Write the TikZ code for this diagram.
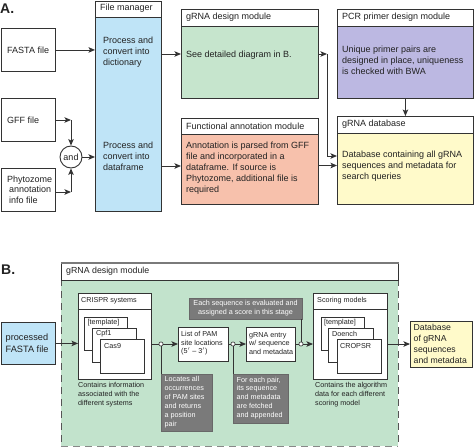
\documentclass[tikz,border=0pt]{standalone}
\usepackage{fontspec}
\setmainfont{Liberation Sans}
\usetikzlibrary{arrows.meta,calc}
\definecolor{lineC}{HTML}{333333}
\definecolor{txtC}{HTML}{222222}
\definecolor{blueC}{HTML}{BFE4F7}
\definecolor{greenC}{HTML}{C6E5CD}
\definecolor{greenB}{HTML}{C2E3CC}
\definecolor{purpleC}{HTML}{BCB8E2}
\definecolor{salmonC}{HTML}{F7C1AC}
\definecolor{yellowC}{HTML}{FFFACA}
\definecolor{grayC}{HTML}{7A7A7A}
\definecolor{dashC}{HTML}{555555}
\begin{document}
\begin{tikzpicture}[x=1pt,y=-1pt,
  box/.style={draw=lineC, line width=0.9pt, inner sep=0pt, anchor=north west},
  tnine/.style={font=\fontsize{9}{11}\selectfont, inner sep=0pt, align=left, anchor=west, text=txtC},
  tseven/.style={font=\fontsize{7.2}{8.8}\selectfont, inner sep=0pt, align=left, anchor=west, text=txtC},
  arr/.style={draw=lineC, line width=0.9pt, -{Stealth[length=6.5pt,width=5.5pt,inset=1.5pt]}},
  ln/.style={draw=lineC, line width=0.9pt},
  dotc/.style={circle, draw=lineC, fill=white, line width=0.6pt, inner sep=0pt, minimum size=4.2pt},
  graybox/.style={fill=grayC, draw=grayC!85!black, line width=0.5pt, inner sep=0pt, anchor=north west},
  lbl/.style={font=\fontsize{14}{16}\selectfont\bfseries, inner sep=0pt, anchor=west, text=txtC}
]
\useasboundingbox (0,0) rectangle (474,447);

% ---------------- Part A ----------------
\node[lbl] (labA) at (0,9) {A.};

% input files
\node[box, fill=white, minimum width=54pt, minimum height=43pt] (fasta) at (1,28) {};
\node[box, fill=white, minimum width=54pt, minimum height=43pt] (gff) at (1,98) {};
\node[box, fill=white, minimum width=54pt, minimum height=43pt] (phyto) at (1,168) {};
\node[tnine] (tfasta) at (7,50) {FASTA file};
\node[tnine] (tgff) at (7,120) {GFF file};
\node[tnine] (tphyto) at (7,189.5) {Phytozome\\[-0.5pt]\hspace*{2pt}annotation\\[-0.5pt]\hspace*{2pt}info file};

% and circle
\node[circle, draw=lineC, line width=0.9pt, fill=white, minimum size=22pt, inner sep=0pt, font=\fontsize{9}{11}\selectfont, text=txtC] (andc) at (71,157) {and};

% file manager
\node[box, fill=white, minimum width=66pt, minimum height=16.5pt] (fmh) at (95,0.5) {};
\node[box, fill=blueC, minimum width=66pt, minimum height=194pt] (fmb) at (95,17) {};
\node[tnine] (tfmh) at (100,8.5) {File manager};
\node[tnine] (tfm1) at (103,52) {Process and\\convert into\\dictionary};
\node[tnine] (tfm2) at (103,156) {Process and\\convert into\\dataframe};

% gRNA design module
\node[box, fill=white, minimum width=137pt, minimum height=17.5pt] (gdmh) at (181,8.5) {};
\node[box, fill=greenC, minimum width=137pt, minimum height=72pt] (gdmb) at (181,26) {};
\node[tnine] (tgdmh) at (186,17) {gRNA design module};
\node[tnine] (tgdm) at (186,55) {See detailed diagram in B.};

% PCR primer design module
\node[box, fill=white, minimum width=136pt, minimum height=17.5pt] (pcrh) at (337,8.5) {};
\node[box, fill=purpleC, minimum width=136pt, minimum height=72pt] (pcrb) at (337,26) {};
\node[tnine] (tpcrh) at (342,17) {PCR primer design module};
\node[tnine] (tpcr) at (342,60) {Unique primer pairs are\\designed in place, uniqueness\\is checked with BWA};

% Functional annotation module
\node[box, fill=white, minimum width=137pt, minimum height=16.5pt] (famh) at (181,117.5) {};
\node[box, fill=salmonC, minimum width=137pt, minimum height=70pt] (famb) at (181,134) {};
\node[tnine] (tfamh) at (186,126) {Functional annotation module};
\node[tnine] (tfam) at (186,168) {Annotation is parsed from GFF\\file and incorporated in a\\dataframe. If source is\\Phytozome, additional file is\\required};

% gRNA database
\node[box, fill=white, minimum width=136pt, minimum height=17pt] (dbh) at (337,116) {};
\node[box, fill=yellowC, minimum width=136pt, minimum height=71pt] (dbb) at (337,133) {};
\node[tnine] (tdbh) at (342,124.5) {gRNA database};
\node[tnine] (tdb) at (342,166) {Database containing all gRNA\\sequences and metadata for\\search queries};

% connectors A
\draw[arr] (fasta.east) -- (fasta.east -| fmb.west);
\coordinate (g1) at (71,120);
\draw[arr] (gff.east |- g1) -- (g1);
\draw[arr] (g1) -- (andc.north);
\coordinate (p1) at (71,192);
\draw[arr] (phyto.east |- p1) -- (p1);
\draw[arr] (p1) -- (andc.south);
\draw[arr] (andc.east) -- (andc.east -| fmb.west);
\coordinate (ya1) at (0,54);
\draw[arr] (fmb.east |- ya1) -- (gdmb.west |- ya1);
\coordinate (ya3) at (0,166);
\draw[arr] (fmb.east |- ya3) -- (famb.west |- ya3);
\coordinate (c1) at (327,54);
\coordinate (c2) at (327,156);
\draw[arr] (gdmb.east |- ya1) -- (c1);
\draw[arr] (c1) -- (c2) -- (dbb.west |- c2);
\coordinate (ya2) at (0,165.5);
\draw[arr] (famb.east |- ya2) -- (dbb.west |- ya2);
\draw[arr] (pcrb.south) -- (dbh.north);

% ---------------- Part B ----------------
\node[lbl] (labB) at (1,270) {B.};

% module frame
\node[fill=greenB, inner sep=0pt, anchor=north west, minimum width=337pt, minimum height=167pt] (modb) at (61,279) {};
\draw[draw=dashC, line width=1pt, dash pattern=on 7pt off 5pt] (modb.north west) -- (modb.south west);
\draw[draw=dashC, line width=1pt, dash pattern=on 7pt off 5pt] (modb.north east) -- (modb.south east);
\draw[draw=dashC!70, line width=1pt, dash pattern=on 7pt off 5pt] (modb.south west) -- (modb.south east);
\node[box, fill=white, minimum width=337pt, minimum height=16.5pt] (modh) at (61,263) {};
\draw[draw=grayC, line width=2pt] (modh.north west) -- (modh.north east);
\node[font=\fontsize{8.8}{10}\selectfont, inner sep=0pt, anchor=west, text=txtC] (tmodh) at (66,271) {gRNA design module};

% processed FASTA
\node[box, fill=blueC, minimum width=54pt, minimum height=42pt] (pfasta) at (1,322) {};
\node[tnine, font=\fontsize{9.2}{11.5}\selectfont] (tpfasta) at (5.5,343) {processed\\FASTA file};

% CRISPR systems
\node[box, fill=white, minimum width=73pt, minimum height=16pt] (crh) at (78,293) {};
\node[box, fill=white, minimum width=73pt, minimum height=70pt] (crb) at (78,309) {};
\node[tseven] (tcrh) at (81,301) {CRISPR systems};
\node[box, fill=white, minimum width=43pt, minimum height=33pt] (cr1) at (84,317) {};
\node[box, fill=white, minimum width=44pt, minimum height=34pt] (cr2) at (92,328) {};
\node[box, fill=white, minimum width=44pt, minimum height=34pt] (cr3) at (100,339) {};
\node[tseven] (tcr1) at (87.5,323) {[template]};
\node[tseven] (tcr2) at (96,334) {Cpf1};
\node[tseven] (tcr3) at (104,346) {Cas9};
\node[tseven] (tcrsub) at (78,394.5) {Contains information\\associated with the\\different systems};

% PAM list
\node[box, fill=white, minimum width=50pt, minimum height=34pt] (pam) at (178,327) {};
\node[tseven, font=\fontsize{7.2}{8.5}\selectfont] (tpam) at (181,343.5) {List of PAM\\site locations\\(5$'$ -- 3$'$)};

% gRNA entry
\node[box, fill=white, minimum width=49pt, minimum height=34pt] (entry) at (246,327) {};
\node[tseven, font=\fontsize{7.2}{8.5}\selectfont] (tentry) at (249,343.5) {gRNA entry\\w/ sequence\\and metadata};

% Scoring models
\node[box, fill=white, minimum width=74pt, minimum height=16pt] (sch) at (313,293) {};
\node[box, fill=white, minimum width=74pt, minimum height=70pt] (scb) at (313,309) {};
\node[tseven] (tsch) at (317,301) {Scoring models};
\node[box, fill=white, minimum width=43pt, minimum height=33pt] (sc1) at (321,317) {};
\node[box, fill=white, minimum width=45pt, minimum height=34pt] (sc2) at (328,328) {};
\node[box, fill=white, minimum width=44pt, minimum height=34pt] (sc3) at (337,339) {};
\node[tseven] (tsc1) at (324,323) {[template]};
\node[tseven] (tsc2) at (332,334) {Doench};
\node[tseven] (tsc3) at (340,346) {CROPSR};
\node[tseven] (tscsub) at (315,394.5) {Contains the algorithm\\data for each different\\scoring model};

% Database (B)
\node[box, fill=yellowC, minimum width=62pt, minimum height=46pt] (dbB) at (410,321) {};
\node[tnine, font=\fontsize{8.7}{11.1}\selectfont] (tdbB) at (413.5,344) {Database\\of gRNA\\sequences\\and metadata};

% gray annotation boxes
\node[graybox, minimum width=113pt, minimum height=21pt] (graytop) at (189,297.5) {};
\node[font=\fontsize{7.2}{8.7}\selectfont, inner sep=0pt, align=center, text=white] (tgraytop) at (245.5,308.3) {Each sequence is evaluated and\\assigned a score in this stage};
\node[graybox, minimum width=51pt, minimum height=57pt] (gray1) at (161,374) {};
\node[tseven, font=\fontsize{7.2}{8.9}\selectfont, text=white] (tgray1) at (164.5,402.3) {Locates all\\occurrences\\of PAM sites\\and returns\\a position\\pair};
\node[graybox, minimum width=55pt, minimum height=49pt] (gray2) at (233,374) {};
\node[tseven, font=\fontsize{7.2}{8.9}\selectfont, text=white] (tgray2) at (236.5,398) {For each pair,\\its sequence\\and metadata\\are fetched\\and appended};

% dots
\node[dotc] (d1) at (161,344) {};
\node[dotc] (d2) at (233,344) {};
\node[dotc] (d3) at (301,344) {};

% connectors B
\draw[arr] (pfasta.east) -- (pfasta.east -| crb.west);
\draw[ln] (crb.east |- d1) -- (d1);
\draw[arr] (d1) -- (pam.west |- d1);
\draw[ln] (d1) -- (d1 |- gray1.north);
\draw[ln] (pam.east |- d2) -- (d2);
\draw[arr] (d2) -- (entry.west |- d2);
\draw[ln] (d2) -- (d2 |- gray2.north);
\draw[ln] (entry.east |- d3) -- (d3);
\draw[arr] (d3) -- (scb.west |- d3);
\draw[ln] (d3) -- (d3 |- graytop.south);
\draw[arr] (scb.east |- d3) -- (dbB.west |- d3);
\end{tikzpicture}
\end{document}
